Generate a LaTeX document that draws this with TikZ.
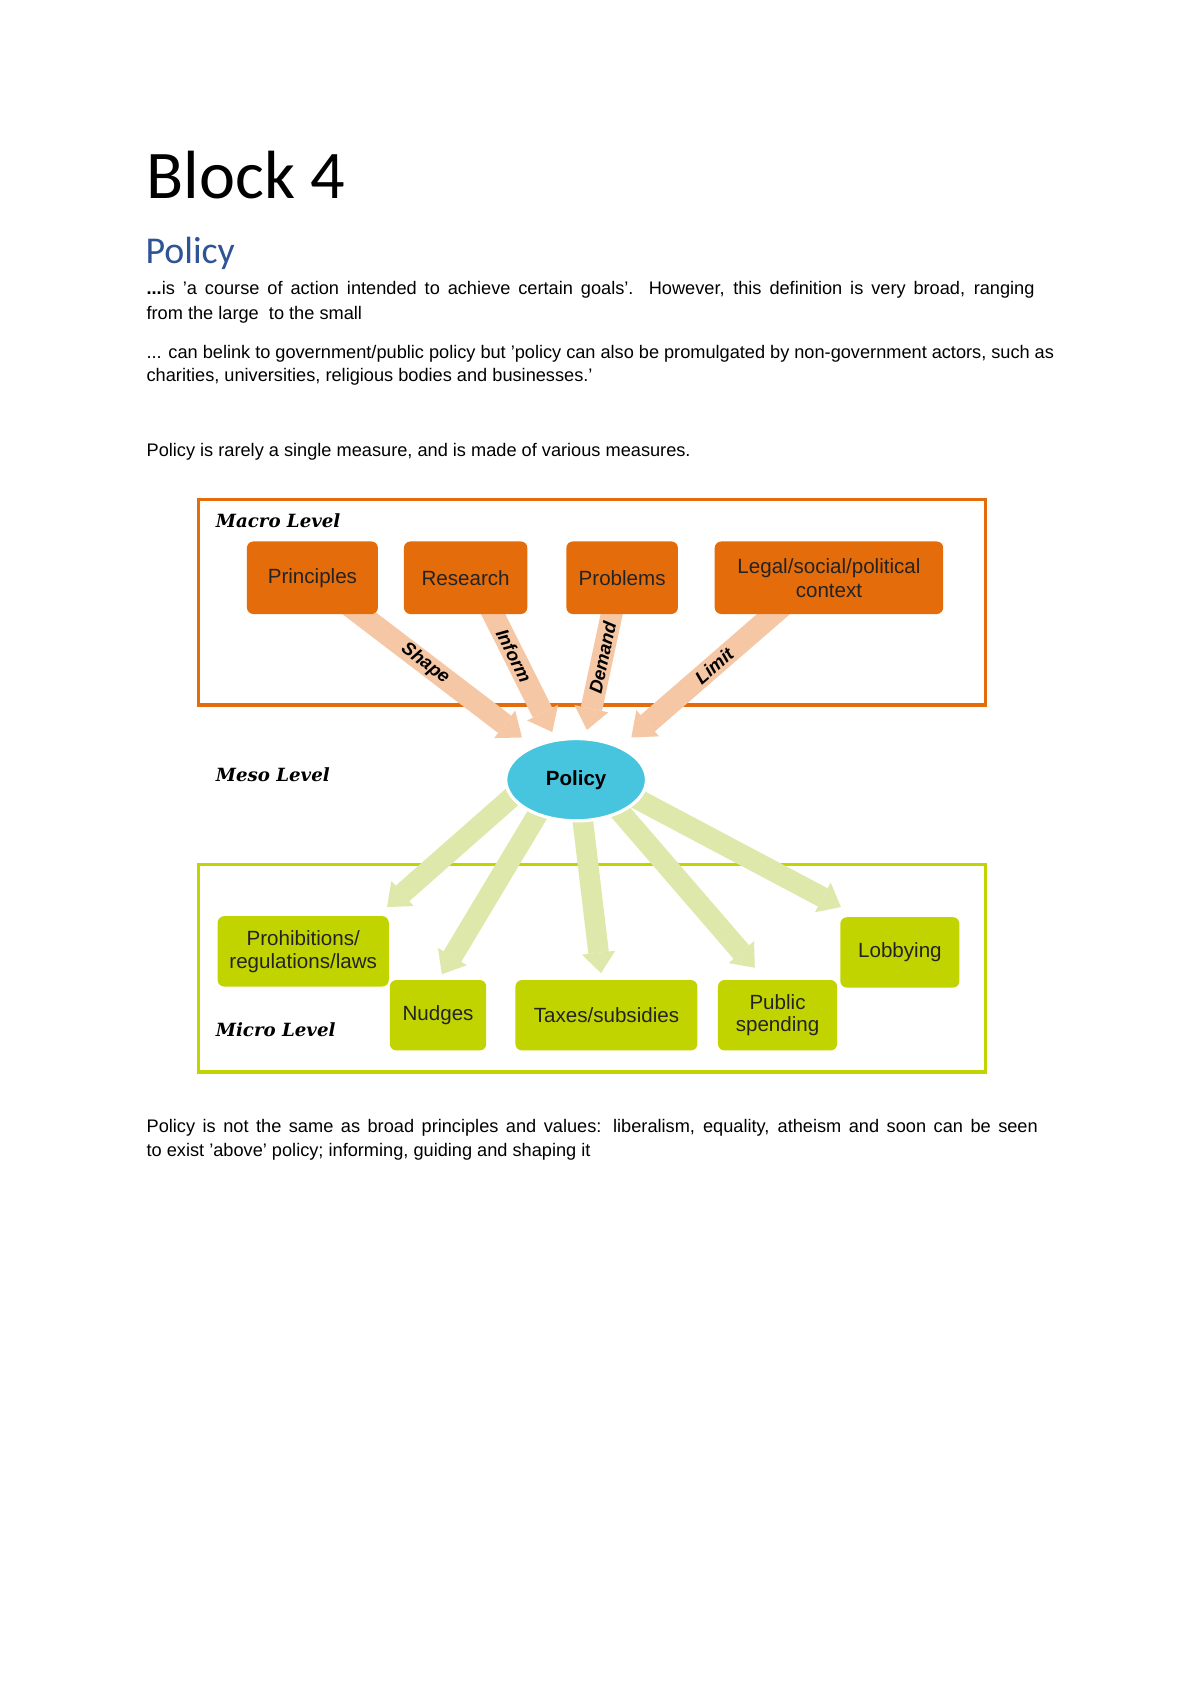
\documentclass[tikz,border=0pt]{standalone}
\usepackage{fontspec}
\setmainfont{Liberation Sans}
\newfontfamily\titlefont{Carlito}
\newfontfamily\levelfont{DejaVu Serif}
\usetikzlibrary{arrows.meta,shapes.geometric,backgrounds}
\definecolor{macroorange}{RGB}{228,108,10}
\definecolor{peach}{RGB}{245,199,164}
\definecolor{policyblue}{RGB}{72,197,222}
\definecolor{microgreen}{RGB}{194,212,0}
\definecolor{palegreen}{RGB}{221,232,170}
\definecolor{headblue}{RGB}{47,84,150}
\definecolor{boxtext}{RGB}{35,35,35}
\begin{document}
\begin{tikzpicture}[x=0.5pt,y=-0.5pt,
          body/.style={anchor=base west,inner sep=0pt,font=\fontsize{8.4}{11}\selectfont},
          levellabel/.style={anchor=base west,inner sep=0pt,font=\levelfont\bfseries\itshape\fontsize{8.4}{10}\selectfont},
          orangebox/.style={fill=macroorange,rounded corners=3pt,inner sep=0pt,minimum height=33.5pt,align=center,text=boxtext,font=\fontsize{9.5}{11}\selectfont},
          greenbox/.style={fill=microgreen,rounded corners=3pt,inner sep=0pt,minimum height=32.5pt,align=center,text=boxtext,font=\fontsize{9.5}{10.5}\selectfont},
          peacharrow/.style={draw=peach,line width=10pt,-{Triangle[width=16pt,length=10pt,line width=0pt]}},
          greenarrow/.style={draw=palegreen,line width=9.5pt,-{Triangle[width=15.5pt,length=9.5pt,line width=0pt]}},
          verb/.style={sloped,inner sep=1pt,font=\bfseries\itshape\fontsize{8.5}{10}\selectfont}]
          \node[anchor=base west,inner sep=0pt,font=\titlefont\fontsize{31.5}{36}\selectfont] (title) at (135,183) {Block 4};
          \node[anchor=base west,inner sep=0pt,text=headblue,font=\titlefont\fontsize{17.5}{20}\selectfont] (head) at (134,243) {Policy};
          \node[body] (p1a) at (135,272) {\makebox[410pt][s]{\textbf{...}is 'a course of action intended to achieve certain goals'. However, this definition is very broad, ranging}};
          \node[body] (p1b) at (135,295) {from the large\ \ to the small};
          \node[body] (p2a) at (135,331) {\makebox[419pt][s]{... can belink to government/public policy but 'policy can also be promulgated by non-government actors, such as}};
          \node[body] (p2b) at (135,352) {charities, universities, religious bodies and businesses.'};
          \node[body] (p3) at (135,422) {Policy is rarely a single measure, and is made of various measures.};
          \node[body] (p4a) at (135,1046) {\makebox[411.5pt][s]{Policy is not the same as broad principles and values: liberalism, equality, atheism and soon can be seen}};
          \node[body] (p4b) at (135,1068) {to exist 'above' policy; informing, guiding and shaping it};
          \node[levellabel] (macro) at (199,487) {Macro Level};
          \node[levellabel] (meso) at (199,722) {Meso Level};
          \node[levellabel] (micro) at (199,957) {Micro Level};
          \node[orangebox,minimum width=60.5pt] (prin) at (288.5,533.5) {Principles};
          \node[orangebox,minimum width=57pt] (res) at (430,533.5) {Research};
          \node[orangebox,minimum width=51.5pt] (prob) at (574.5,533.5) {Problems};
          \node[orangebox,minimum width=105.5pt] (legal) at (765.5,533.5) {Legal/social/political\\context};
          \node[ellipse,fill=policyblue,draw=white,line width=1.5pt,minimum width=65pt,minimum height=38pt,inner sep=0pt,font=\bfseries\fontsize{9.5}{11}\selectfont] (pol) at (532,720) {Policy};
          \node[greenbox,minimum width=79pt] (prohib) at (280,878.5) {Prohibitions/\\regulations/laws};
          \node[greenbox,minimum width=44.5pt] (nudge) at (404.5,937.5) {Nudges};
          \node[greenbox,minimum width=84pt] (taxes) at (560,937.5) {Taxes/subsidies};
          \node[greenbox,minimum width=55pt] (public) at (718,937.5) {Public\\spending};
          \node[greenbox,minimum width=55pt] (lobby) at (831,879.5) {Lobbying};
          \begin{scope}[on background layer]
            \fill[white] (0,0) rectangle (1108,1568);
            \draw[macroorange,line width=1.5pt] (183,461) rectangle (910,651);
            \draw[microgreen,line width=1.5pt] (183,798) rectangle (910,990);
            \draw[peacharrow] ([xshift=-18pt,yshift=7.5pt]prin.south east) -- node[verb,pos=0.47]{Shape} ([xshift=-25pt,yshift=19.5pt]pol.center);
            \draw[peacharrow] ([xshift=8.5pt,yshift=8.5pt]res.south) -- node[verb,pos=0.44]{Inform} ([xshift=-11pt,yshift=22pt]pol.center);
            \draw[peacharrow] ([xshift=-3.25pt,yshift=7.5pt]prob.south) -- node[verb,pos=0.45]{Demand} ([xshift=5pt,yshift=23pt]pol.center);
            \draw[peacharrow] ([xshift=-17.75pt,yshift=7pt]legal.south) -- node[verb,pos=0.48]{Limit} ([xshift=25.5pt,yshift=19.5pt]pol.center);
            \draw[greenarrow] ([xshift=-24.5pt,yshift=-3.5pt]pol.center) -- ([xshift=-1pt,yshift=4pt]prohib.north east);
            \draw[greenarrow] ([xshift=-14.5pt,yshift=-10.5pt]pol.center) -- ([xshift=1.75pt,yshift=2.5pt]nudge.north);
            \draw[greenarrow] ([xshift=2.5pt,yshift=-14pt]pol.center) -- ([xshift=-2.5pt,yshift=3pt]taxes.north);
            \draw[greenarrow] ([xshift=17.5pt,yshift=-11.5pt]pol.center) -- ([xshift=-10.5pt,yshift=5.5pt]public.north);
            \draw[greenarrow] ([xshift=26.5pt,yshift=-8pt]pol.center) -- ([xshift=0.5pt,yshift=4.5pt]lobby.north west);
          \end{scope}
\end{tikzpicture}
\end{document}
